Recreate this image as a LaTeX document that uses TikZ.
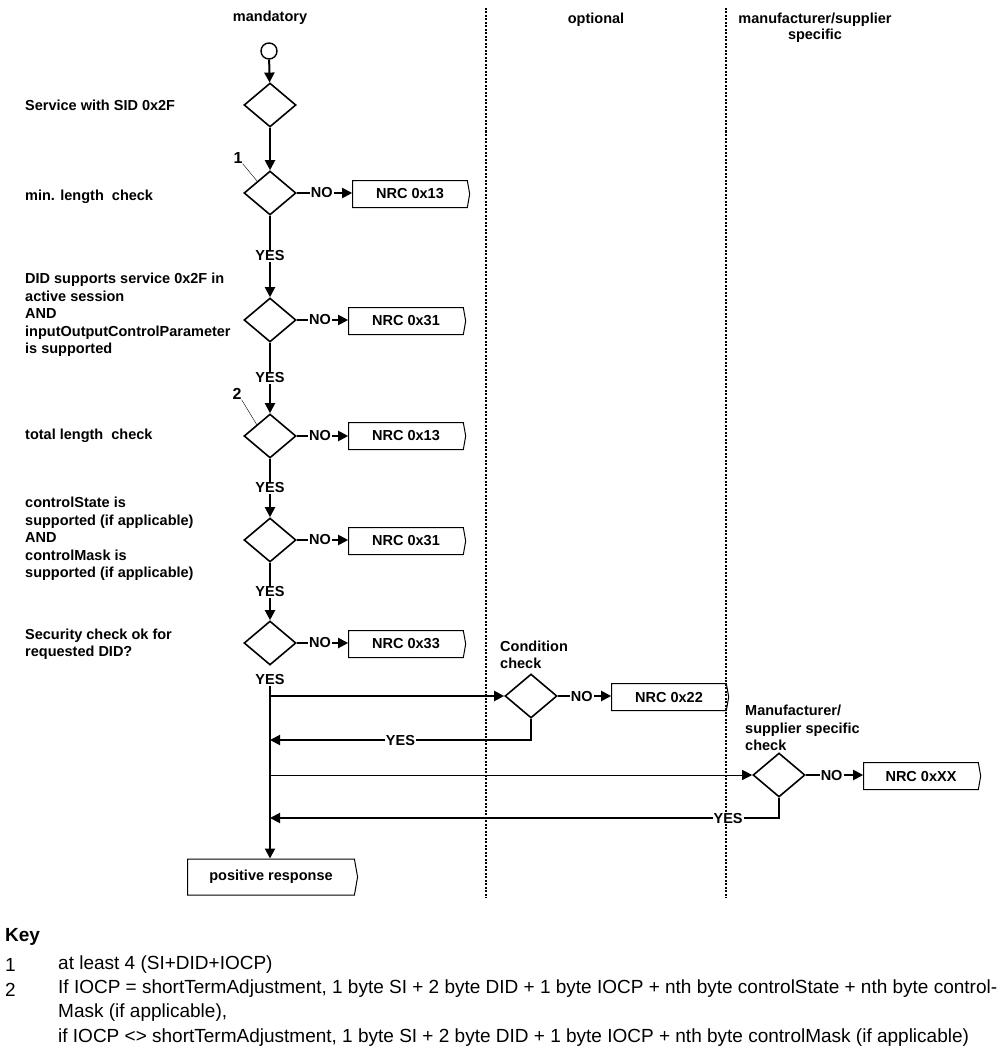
\documentclass[tikz,border=0pt]{standalone}
\usepackage{fontspec}
\setmainfont{Liberation Sans}
\usetikzlibrary{shapes.geometric,shapes.symbols,arrows.meta}
\begin{document}
\begin{tikzpicture}[x=1pt,y=-1pt,
  dia/.style={draw,line width=1.6pt,diamond,minimum width=52pt,minimum height=44pt,inner sep=0pt},
  nrc/.style={draw,line width=1pt,signal,signal to=east,signal pointer angle=160,minimum width=117pt,minimum height=27pt,inner sep=0pt,font=\fontsize{14.5}{17}\selectfont\bfseries},
  lbl/.style={font=\fontsize{14.5}{17.5}\selectfont\bfseries,align=left,anchor=west,inner sep=0pt},
  yn/.style={font=\fontsize{14.5}{17}\selectfont\bfseries,inner sep=1pt,fill=white},
  fl/.style={line width=2pt},
  arr/.style={-{Triangle[length=10pt,width=10pt]}},
  key/.style={font=\fontsize{19}{24}\selectfont,anchor=west,inner sep=0pt}]
\useasboundingbox (0,0) rectangle (1003,1054);
\draw[line width=1.4pt,dash pattern=on 2pt off 1.5pt] (486,8) -- (486,898) (726,8) -- (726,898);
\node[lbl,anchor=center] (h1) at (270,18) {mandatory};
\node[lbl,anchor=center] (h2) at (596,20) {optional};
\node[lbl,anchor=center,align=center,font=\fontsize{14.5}{16}\selectfont\bfseries] (h3) at (815,28) {manufacturer/supplier\\specific};
\node[draw,circle,line width=1.4pt,minimum size=16pt,inner sep=0pt] (st) at (269,51) {};
\node[dia] (d1) at (270,105) {};
\node[dia] (d2) at (270,193) {};
\node[dia] (d3) at (270,320) {};
\node[dia] (d4) at (270,436) {};
\node[dia] (d5) at (270,540) {};
\node[dia] (d6) at (270,643) {};
\node[dia] (c1) at (531,696) {};
\node[dia] (c2) at (779,775) {};
\node[nrc] (n1) at (410,194) {NRC 0x13};
\node[nrc] (n2) at (406,321) {NRC 0x31};
\node[nrc] (n3) at (406,436) {NRC 0x13};
\node[nrc] (n4) at (406,541) {NRC 0x31};
\node[nrc] (n5) at (406,644) {NRC 0x33};
\node[nrc] (n6) at (669,697) {NRC 0x22};
\node[nrc] (n7) at (921,776) {NRC 0xXX};
\node[nrc,minimum width=170pt,minimum height=36pt] (pr) at (271,877) {positive response};
\node[lbl] (t1) at (25,105) {Service with SID 0x2F};
\node[lbl] (t2) at (25,197) {min. length\ \ check};
\node[lbl] (t3) at (25,315) {DID supports service 0x2F in\\active session\\AND\\inputOutputControlParameter\\is supported};
\node[lbl] (t4) at (25,436) {total length\ \ check};
\node[lbl] (t5) at (25,539) {controlState is\\supported (if applicable)\\AND\\controlMask is\\supported (if applicable)};
\node[lbl] (t6) at (25,644) {Security check ok for\\requested DID?};
\node[lbl] (t7) at (500,655) {Condition\\check};
\node[lbl] (t8) at (745,728) {Manufacturer/\\supplier specific\\check};
% YES labels
\node[yn] (y2) at (270,256) {YES};
\node[yn] (y3) at (270,378) {YES};
\node[yn] (y4) at (270,488) {YES};
\node[yn] (y5) at (270,592) {YES};
\node[yn] (y6) at (270,680) {YES};
% main flow
\draw[fl,arr] (st) -- (d1);
\draw[fl,arr] (d1) -- (d2);
\draw[fl] (d2) -- (y2);
\draw[fl,arr] (y2) -- (d3);
\draw[fl] (d3) -- (y3);
\draw[fl,arr] (y3) -- (d4);
\draw[fl] (d4) -- (y4);
\draw[fl,arr] (y4) -- (d5);
\draw[fl] (d5) -- (y5);
\draw[fl,arr] (y5) -- (d6);
\coordinate (m1) at (270,696);
\coordinate (m2) at (270,740);
\coordinate (m3) at (270,775);
\coordinate (m4) at (270,818);
\draw[fl,arr] (y6) -- (pr.north -| d6);
% NO branches
\draw[fl,arr] (d2.east) -- node[yn,pos=0.45] {NO} (n1.west |- d2);
\draw[fl,arr] (d3.east) -- node[yn,pos=0.45] {NO} (n2.west |- d3);
\draw[fl,arr] (d4.east) -- node[yn,pos=0.45] {NO} (n3.west |- d4);
\draw[fl,arr] (d5.east) -- node[yn,pos=0.45] {NO} (n4.west |- d5);
\draw[fl,arr] (d6.east) -- node[yn,pos=0.45] {NO} (n5.west |- d6);
\draw[fl,arr] (c1.east) -- node[yn,pos=0.45] {NO} (n6.west |- c1);
\draw[fl,arr] (c2.east) -- node[yn,pos=0.45] {NO} (n7.west |- c2);
% optional branches
\draw[fl,arr] (m1) -- (c1.west);
\draw[fl,arr] (c1.south) |- node[yn,pos=0.75] {YES} (m2);
\draw[line width=0.8pt,arr] (m3) -- (c2.west);
\draw[fl,arr] (c2.south) |- node[yn,pos=0.55] {YES} (m4);
% footnote marks
\node[lbl,anchor=center,font=\fontsize{16}{18}\selectfont\bfseries] (k1) at (238,158) {1};
\draw[line width=0.4pt] (k1.south east) -- (257,181);
\node[lbl,anchor=center,font=\fontsize{16}{18}\selectfont\bfseries] (k2) at (237,394) {2};
\draw[line width=0.4pt] (k2.south east) -- (257,425);
% key
\node[key,font=\fontsize{19}{22}\selectfont\bfseries] (kt) at (5,937) {Key};
\node[key] (a1) at (5,965) {1};
\node[key] (b1) at (58,965) {at least 4 (SI+DID+IOCP)};
\node[key] (a2) at (5,990) {2};
\node[key,text width=939pt,align=justify,anchor=north west] (b2) at (58,980) {If IOCP = shortTermAdjustment, 1 byte SI + 2 byte DID + 1 byte IOCP + nth byte controlState + nth byte controlMask (if applicable),};
\node[key] (b3) at (58,1038) {if IOCP <> shortTermAdjustment, 1 byte SI + 2 byte DID + 1 byte IOCP + nth byte controlMask (if applicable)};
\end{tikzpicture}
\end{document}
